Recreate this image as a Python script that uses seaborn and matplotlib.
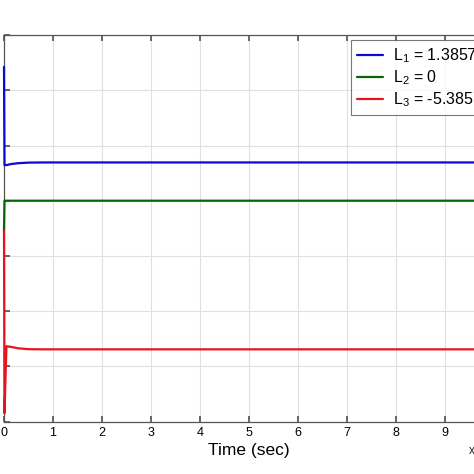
import numpy as np
import pandas as pd
import matplotlib
matplotlib.use("Agg")
import matplotlib.pyplot as plt
import seaborn as sns

# values (time in units of 10^4 s)
time = [0.0, 0.01, 0.05, 0.15, 0.3, 0.5, 0.8, 1.5, 10.0]
L1 = [4.85, 1.29, 1.29, 1.33, 1.36, 1.38, 1.3857, 1.3857, 1.3857]
L2 = [-1.1, 0.0, 0.0, 0.0, 0.0, 0.0, 0.0, 0.0, 0.0]
L3 = [-1.1, -7.7, -5.27, -5.30, -5.35, -5.38, -5.3857, -5.3857, -5.3857]
labels = ["L$_1$ = 1.3857", "L$_2$ = 0", "L$_3$ = -5.3857"]
colors = ["#0a0ad2", "#0a640a", "#e6141e"]
xticks = list(range(0, 11))
yticks = list(range(-8, 7, 2))

df = pd.DataFrame({"time": time, labels[0]: L1, labels[1]: L2, labels[2]: L3})
long = df.melt(id_vars="time", var_name="series", value_name="value")

sns.set_theme(style="ticks")
plt.rcParams['font.family'] = ['Liberation Sans', 'DejaVu Sans']
plt.rcParams['mathtext.fontset'] = 'custom'
plt.rcParams['mathtext.rm'] = 'Liberation Sans'
plt.rcParams['mathtext.it'] = 'Liberation Sans'
plt.rcParams['mathtext.default'] = 'regular'

fig = plt.figure(figsize=(4.74, 4.74), dpi=100)
W = 474
ax = fig.add_axes([4 / W, 1 - 421.5 / W, 489.6 / W, 386.4 / W])

sns.lineplot(data=long, x="time", y="value", hue="series", palette=colors,
             linewidth=1.6, ax=ax, sort=False, estimator=None)
for ln in ax.lines:
    ln.set_zorder(3)
    ln.set_clip_on(False)

ax.set_xlim(0, 10)
ax.set_ylim(-8, 6)
ax.set_xticks(xticks)
ax.set_yticks(yticks)
ax.grid(True, color="#e0e0e0", linewidth=0.8)
ax.tick_params(direction="in", length=4, color="#555555", labelsize=9,
               labelcolor="black", top=True, right=True, pad=4)
for s in ax.spines.values():
    s.set_color("#555555")
    s.set_linewidth(0.9)
ax.set_xlabel("Time (sec)", fontsize=12.5, labelpad=3, color="black")
ax.set_ylabel("")

leg = ax.legend(loc="upper left", bbox_to_anchor=(351 / W, 1 - 40 / W),
                bbox_transform=fig.transFigure, fontsize=11.5, frameon=True,
                fancybox=False, edgecolor="#555555", borderpad=0.4,
                labelspacing=0.2, handlelength=1.6, handletextpad=0.6,
                borderaxespad=0)
leg.get_frame().set_linewidth(0.8)
for t in leg.get_texts():
    t.set_color("black")

fig.text(468 / W, 1 - 450 / W, "x 10$^4$", fontsize=8.5, ha="left", va="center")

fig.savefig("out.png", dpi=100)
